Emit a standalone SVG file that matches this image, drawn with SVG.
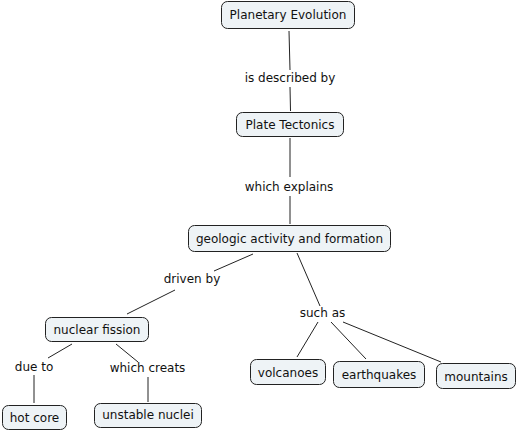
<svg xmlns="http://www.w3.org/2000/svg" width="517" height="431" viewBox="0 0 517 431">
<style>
.n rect{fill:#eef3f6;stroke:#222;stroke-width:1}
text{font-family:"DejaVu Sans",Verdana,sans-serif;font-size:12px;fill:#111;text-anchor:middle}
#connectors line{stroke:#222;stroke-width:1}
</style>
<rect width="517" height="431" fill="#fff"/>
<g id="connectors">
<line x1="289" y1="31" x2="290" y2="70"/>
<line x1="290" y1="87" x2="290.5" y2="111"/>
<line x1="290" y1="138" x2="290" y2="177"/>
<line x1="290" y1="196" x2="290" y2="224"/>
<line x1="253" y1="254" x2="214" y2="271"/>
<line x1="175" y1="290" x2="127" y2="314"/>
<line x1="297" y1="253" x2="320" y2="306"/>
<line x1="318" y1="322" x2="297" y2="357"/>
<line x1="331" y1="322" x2="366" y2="359"/>
<line x1="343" y1="322" x2="441" y2="362"/>
<line x1="72" y1="344" x2="48" y2="358"/>
<line x1="34" y1="375" x2="34" y2="403"/>
<line x1="116" y1="344" x2="138" y2="362"/>
<line x1="148" y1="377" x2="148" y2="402"/>
</g>
<g id="labels">
<text x="290" y="82">is described by</text>
<text x="289" y="191">which explains</text>
<text x="192" y="283">driven by</text>
<text x="322.5" y="317">such as</text>
<text x="34" y="371">due to</text>
<text x="147.5" y="372">which creats</text>
</g>
<g id="planetary" class="n"><rect x="221.5" y="1.5" width="133" height="27" rx="6"/><text x="288" y="19">Planetary Evolution</text></g>
<g id="plate" class="n"><rect x="236.5" y="112.5" width="107" height="24" rx="6"/><text x="290" y="128.5">Plate Tectonics</text></g>
<g id="geologic" class="n"><rect x="188.5" y="225.5" width="202" height="26" rx="6"/><text x="289.5" y="242.5">geologic activity and formation</text></g>
<g id="fission" class="n"><rect x="45.5" y="317.5" width="103" height="24" rx="6"/><text x="97" y="333.5">nuclear fission</text></g>
<g id="hotcore" class="n"><rect x="2.5" y="405.5" width="64" height="24" rx="6"/><text x="34.5" y="421.5">hot core</text></g>
<g id="nuclei" class="n"><rect x="94.5" y="403.5" width="107" height="24" rx="6"/><text x="148" y="418.5">unstable nuclei</text></g>
<g id="volcanoes" class="n"><rect x="250.5" y="359.5" width="75" height="25" rx="6"/><text x="288" y="376.5">volcanoes</text></g>
<g id="earthquakes" class="n"><rect x="333.5" y="361.5" width="91" height="26" rx="6"/><text x="379" y="378.5">earthquakes</text></g>
<g id="mountains" class="n"><rect x="436.5" y="363.5" width="79" height="25" rx="6"/><text x="476" y="380.5">mountains</text></g>
</svg>
